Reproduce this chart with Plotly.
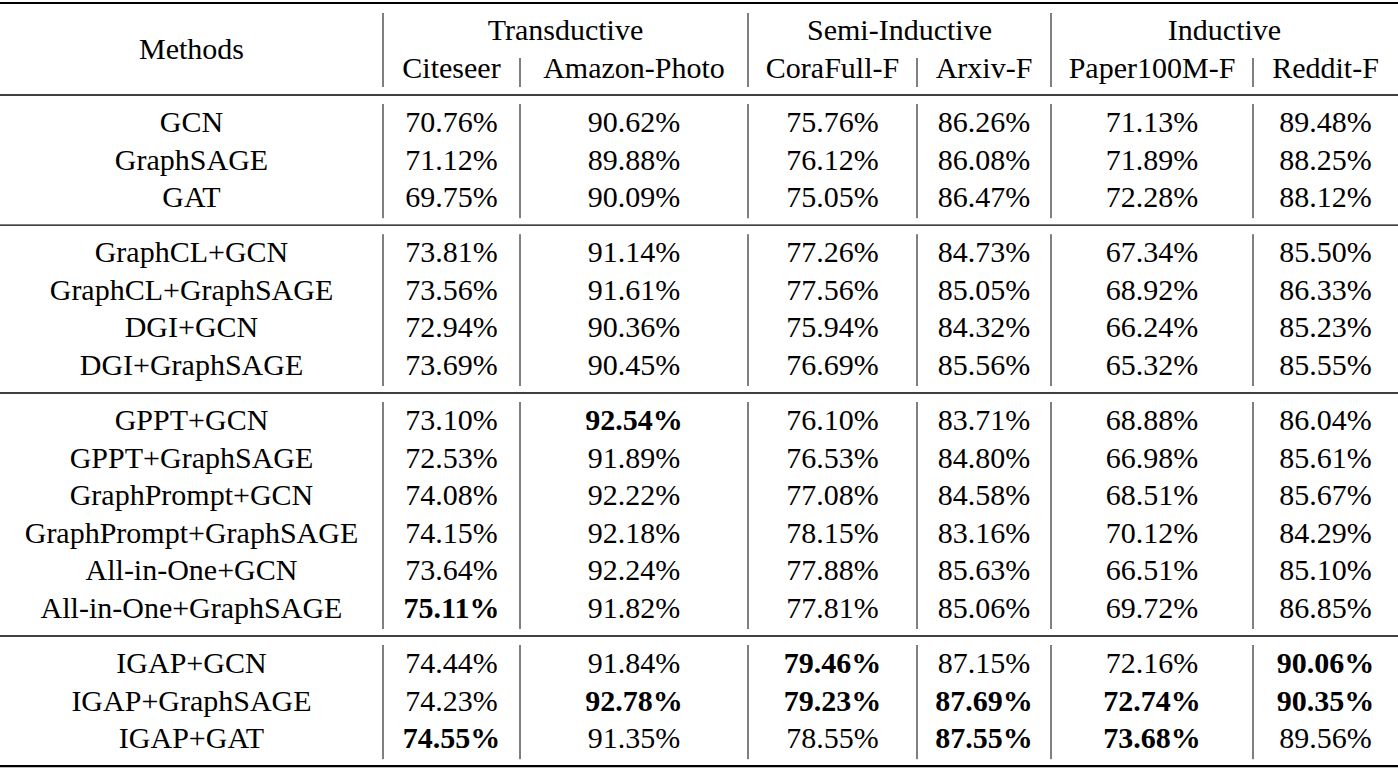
import plotly.graph_objects as go

# table content
methods = ["GCN", "GraphSAGE", "GAT",
           "GraphCL+GCN", "GraphCL+GraphSAGE", "DGI+GCN", "DGI+GraphSAGE",
           "GPPT+GCN", "GPPT+GraphSAGE", "GraphPrompt+GCN", "GraphPrompt+GraphSAGE",
           "All-in-One+GCN", "All-in-One+GraphSAGE",
           "IGAP+GCN", "IGAP+GraphSAGE", "IGAP+GAT"]
group_sizes = [3, 4, 6, 3]

settings = ["Transductive", "Semi-Inductive", "Inductive"]
datasets = ["Citeseer", "Amazon-Photo", "CoraFull-F", "Arxiv-F", "Paper100M-F", "Reddit-F"]

citeseer = [70.76, 71.12, 69.75, 73.81, 73.56, 72.94, 73.69, 73.10, 72.53, 74.08, 74.15, 73.64, 75.11, 74.44, 74.23, 74.55]
amazon_photo = [90.62, 89.88, 90.09, 91.14, 91.61, 90.36, 90.45, 92.54, 91.89, 92.22, 92.18, 92.24, 91.82, 91.84, 92.78, 91.35]
corafull_f = [75.76, 76.12, 75.05, 77.26, 77.56, 75.94, 76.69, 76.10, 76.53, 77.08, 78.15, 77.88, 77.81, 79.46, 79.23, 78.55]
arxiv_f = [86.26, 86.08, 86.47, 84.73, 85.05, 84.32, 85.56, 83.71, 84.80, 84.58, 83.16, 85.63, 85.06, 87.15, 87.69, 87.55]
paper100m_f = [71.13, 71.89, 72.28, 67.34, 68.92, 66.24, 65.32, 68.88, 66.98, 68.51, 70.12, 66.51, 69.72, 72.16, 72.74, 73.68]
reddit_f = [89.48, 88.25, 88.12, 85.50, 86.33, 85.23, 85.55, 86.04, 85.61, 85.67, 84.29, 85.10, 86.85, 90.06, 90.35, 89.56]

# row indices shown in bold, per dataset column
bold_rows = [[12, 15], [7, 14], [13, 14], [14, 15], [14, 15], [13, 14]]

columns = [citeseer, amazon_photo, corafull_f, arxiv_f, paper100m_f, reddit_f]

# layout (pixel units on the axes)
W, H = 1398, 769
col_edges = [0, 383, 520, 748, 917, 1051, 1253, 1398]
setting_span = [(1, 3), (3, 5), (5, 7)]
FONT = "Liberation Serif"
FS = 30

top_rule = 3
header_rule = 95
pitch = 37.6
first_gap = 29.5
last_gap = 25.5

row_y = []
rules = [header_rule]
y0 = header_rule
for n in group_sizes:
    ys = [y0 + first_gap + i * pitch for i in range(n)]
    row_y += ys
    y0 = ys[-1] + last_gap
    rules.append(y0)
bottom_rule = rules.pop()

centers = [(col_edges[i] + col_edges[i + 1]) / 2 for i in range(len(col_edges) - 1)]

fig = go.Figure()

def add_text(xs, ys, texts):
    fig.add_trace(go.Scatter(x=xs, y=ys, text=texts, mode="text",
                             textposition="middle center",
                             textfont=dict(family=FONT, size=FS, color="black"),
                             hoverinfo="skip", showlegend=False))

# header
add_text([centers[0]], [51], ["Methods"])
add_text([(col_edges[a] + col_edges[b]) / 2 for a, b in setting_span], [32] * 3, settings)
add_text(centers[1:], [70] * 6, datasets)

# body
add_text([centers[0]] * len(methods), row_y, methods)
for j, vals in enumerate(columns):
    txt = []
    for i, v in enumerate(vals):
        s = f"{v:.2f}%"
        txt.append(f"<b>{s}</b>" if i in bold_rows[j] else s)
    add_text([centers[j + 1]] * len(vals), row_y, txt)

# horizontal rules
fig.add_shape(type="line", x0=0, x1=W, y0=top_rule, y1=top_rule, line=dict(color="black", width=2.2))
for r in rules:
    fig.add_shape(type="line", x0=0, x1=W, y0=r, y1=r, line=dict(color="black", width=1.3))
fig.add_shape(type="line", x0=0, x1=W, y0=bottom_rule, y1=bottom_rule, line=dict(color="black", width=2.2))

# vertical separators in header
major = [col_edges[1], col_edges[3], col_edges[5]]
minor = [col_edges[2], col_edges[4], col_edges[6]]
for x in major:
    fig.add_shape(type="line", x0=x, x1=x, y0=13, y1=87, line=dict(color="black", width=1))
for x in minor:
    fig.add_shape(type="line", x0=x, x1=x, y0=58, y1=87, line=dict(color="black", width=1))

# vertical separators in body, one segment per group
all_rules = rules + [bottom_rule]
for k in range(len(group_sizes)):
    ya, yb = all_rules[k] + 9, all_rules[k + 1] - 7
    for x in col_edges[1:-1]:
        fig.add_shape(type="line", x0=x, x1=x, y0=ya, y1=yb, line=dict(color="black", width=1))

fig.update_xaxes(range=[0, W], visible=False, fixedrange=True)
fig.update_yaxes(range=[H, 0], visible=False, fixedrange=True)
fig.update_layout(width=W, height=H, margin=dict(l=0, r=0, t=0, b=0),
                  plot_bgcolor="white", paper_bgcolor="white")

fig.write_html("out.html", config={"displayModeBar": False},
               post_script="document.body.style.margin='0';document.body.style.overflow='hidden';")
